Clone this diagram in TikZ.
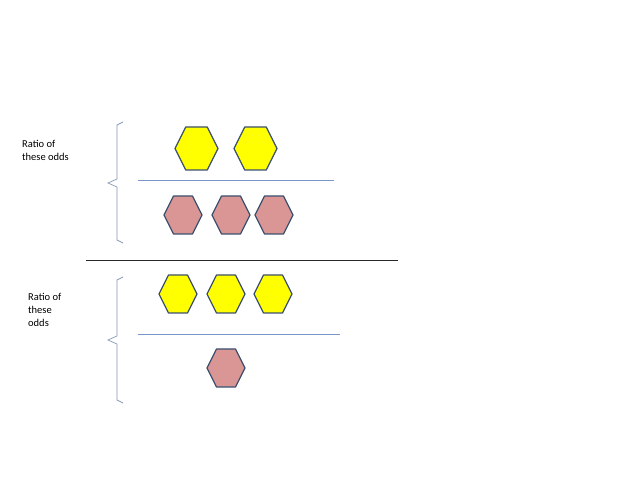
\documentclass[tikz,border=0pt]{standalone}
\usepackage{fontspec}
\setmainfont{Carlito}
\begin{document}
\begin{tikzpicture}[x=1pt,y=-1pt,
  hexline/.style={draw={rgb,255:red,60;green,80;blue,110},line width=1.2pt,line join=round},
  sep/.style={draw={rgb,255:red,120;green,150;blue,200},line width=0.6pt},
  brk/.style={draw={rgb,255:red,130;green,150;blue,180},line width=0.7pt},
  lbl/.style={anchor=north west,font=\fontsize{10.5pt}{13pt}\selectfont,align=left,inner sep=0pt}]
\definecolor{hy}{RGB}{255,255,0}
\definecolor{hp}{RGB}{217,150,148}
\useasboundingbox (0,0) rectangle (638,478);
\newcommand\hexa[4]{% cx cy size fill
  \path[hexline,fill=#4] (#1-#3/2,#2) -- (#1-#3/4,#2-#3/2) -- (#1+#3/4,#2-#3/2) -- (#1+#3/2,#2) -- (#1+#3/4,#2+#3/2) -- (#1-#3/4,#2+#3/2) -- cycle;}
% top
\hexa{196.5}{148.5}{43}{hy}
\hexa{255.5}{148.5}{43}{hy}
\hexa{183}{215}{38}{hp}
\hexa{231}{215}{38}{hp}
\hexa{274}{215}{38}{hp}
\coordinate (l1a) at (138,180); \coordinate (l1b) at (334,180);
\draw[sep] (l1a) -- (l1b);
\draw[brk] (123,122) -- (117,125) -- (117,179) -- (108,183) -- (117,187) -- (117,240) -- (123,243);
\node[lbl] (t1) at (22,140) {Ratio of\\these odds};
% middle
\coordinate (ma) at (86,260); \coordinate (mb) at (398,260);
\draw[line width=0.7pt,draw={rgb,255:red,40;green,40;blue,40}] (ma) -- (mb);
% bottom
\hexa{178}{294}{38}{hy}
\hexa{226}{294}{38}{hy}
\hexa{273}{294}{38}{hy}
\hexa{226}{368}{38}{hp}
\coordinate (l2a) at (138,334); \coordinate (l2b) at (340,334);
\draw[sep] (l2a) -- (l2b);
\draw[brk] (123,277) -- (117,280) -- (117,336) -- (108,340) -- (117,344) -- (117,400) -- (123,403);
\node[lbl] (t2) at (28,293) {Ratio of\\these\\odds};
\end{tikzpicture}
\end{document}
